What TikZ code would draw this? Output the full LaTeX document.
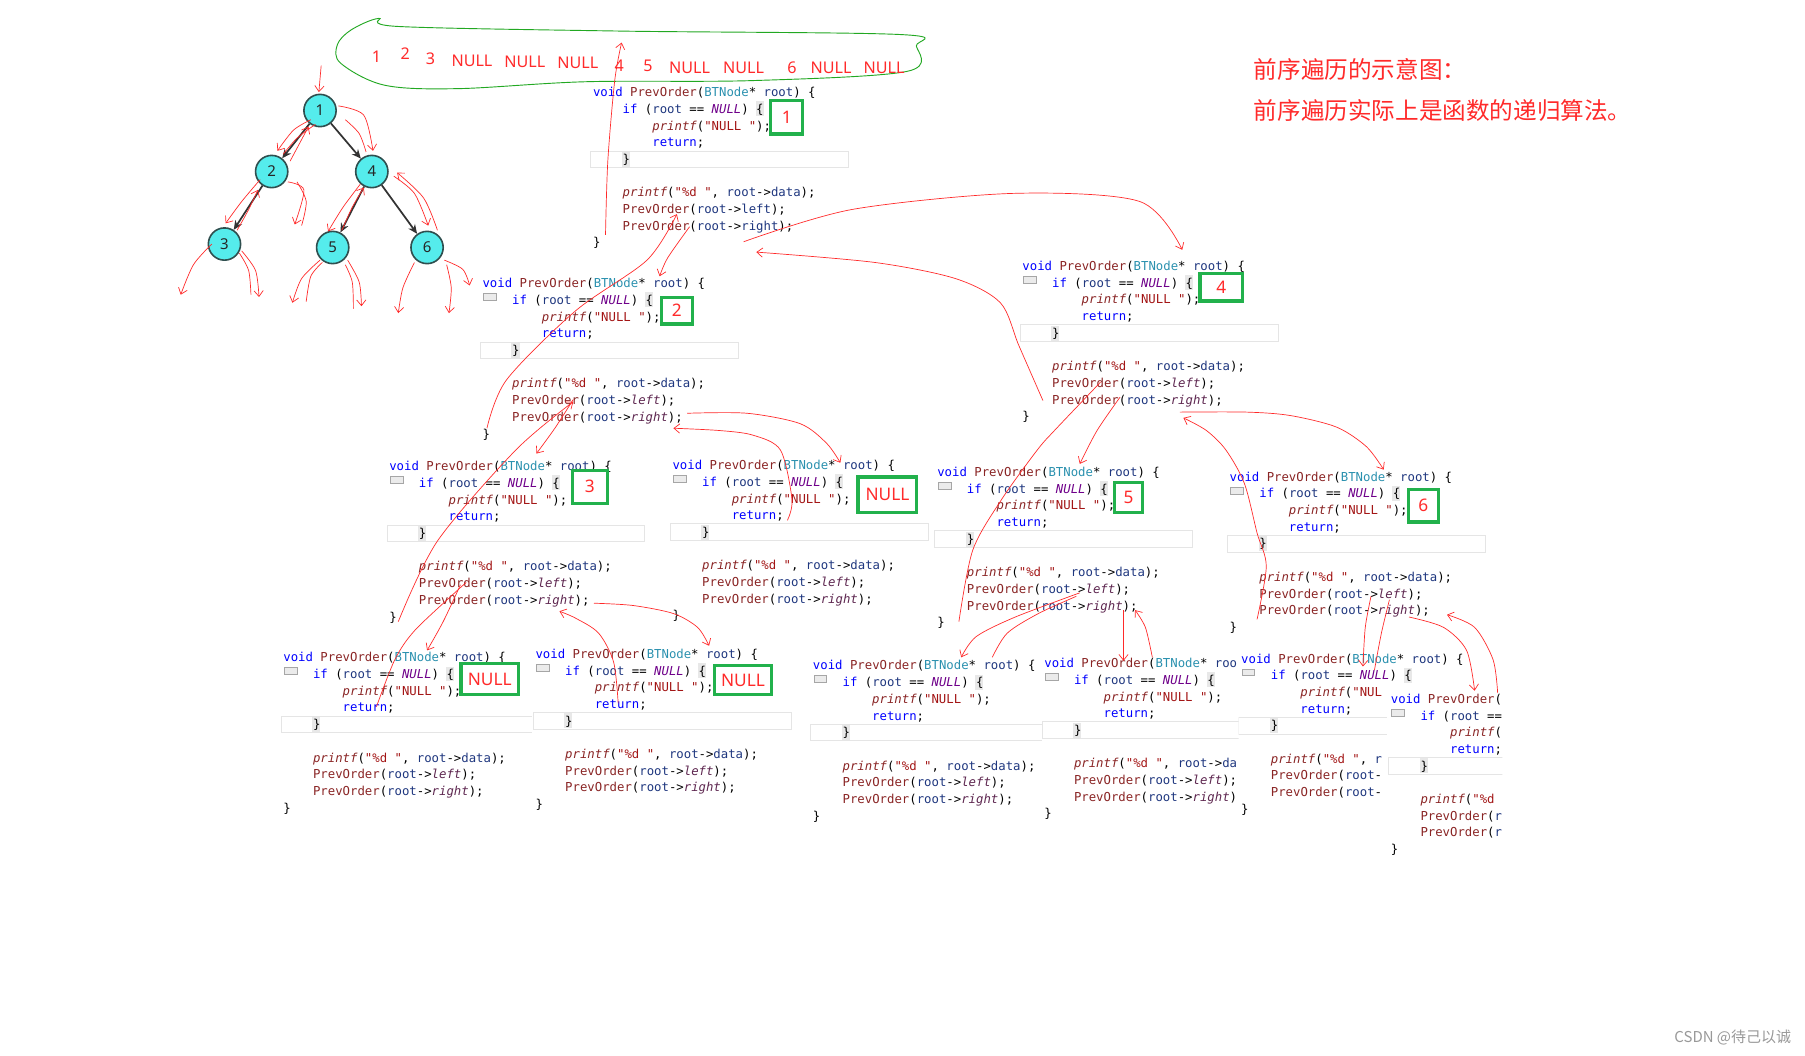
\documentclass[tikz,border=0pt]{standalone}
\usepackage{fontspec}
\setmainfont{Noto Sans}
\setmonofont{DejaVu Sans Mono}
\newfontfamily\cjkfont{Noto Sans CJK SC}
\usetikzlibrary{arrows.meta}
\definecolor{ckwc}{HTML}{0000FF}
\definecolor{cfnc}{HTML}{8A2525}
\definecolor{ctyc}{HTML}{2B91AF}
\definecolor{cvrc}{HTML}{1F377F}
\definecolor{cnlc}{HTML}{6F008A}
\definecolor{cstc}{HTML}{A31515}
\definecolor{clrc}{HTML}{5E2750}
\definecolor{boxgreen}{HTML}{22B14C}
\definecolor{inkred}{HTML}{FF2A2A}
\definecolor{loopgreen}{HTML}{22A822}
\definecolor{nodecyan}{HTML}{55ECEC}
\definecolor{nodeedge}{HTML}{2F4F4F}
\newcommand\ckw[1]{\textcolor{ckwc}{#1}}
\newcommand\cfn[1]{\textcolor{cfnc}{#1}}
\newcommand\cfi[1]{\textcolor{cfnc}{\itshape #1}}
\newcommand\cty[1]{\textcolor{ctyc}{#1}}
\newcommand\cvr[1]{\textcolor{cvrc}{#1}}
\newcommand\cnl[1]{\textcolor{cnlc}{\itshape #1}}
\newcommand\cst[1]{\textcolor{cstc}{#1}}
\newcommand\clrA[1]{\textcolor{cvrc}{#1}}
\newcommand\clrB[1]{\textcolor{clrc}{\itshape #1}}
\tikzset{
 cl/.style={anchor=base west, inner sep=0pt, font=\ttfamily\fontsize{10.7pt}{12pt}\selectfont},
 lnbox/.style={draw=black!10, line width=0.5pt},
 bracehl/.style={fill=black!9},
 iconbox/.style={draw=black!35, fill=black!8, line width=0.5pt},
 gbox/.style={draw=boxgreen, line width=2.8pt, anchor=north west, inner sep=0pt, text=inkred, font=\fontsize{15pt}{17pt}\selectfont},
 ink/.style={draw=inkred, line width=0.6pt},
 inka/.style={ink, -{Straight Barb[length=5pt,width=8pt]}},
 tn/.style={circle, draw=nodeedge, line width=1.4pt, fill=nodecyan, minimum size=28pt, inner sep=0pt, font=\bfseries\fontsize{13pt}{15pt}\selectfont, text=black!85},
 te/.style={draw=black!80, line width=1.5pt, -{Stealth[length=8pt,width=7pt]}},
 seq/.style={text=inkred, inner sep=0pt, font=\fontsize{14pt}{16pt}\selectfont},
}
% decorations of a block: #1 x, #2 y
\newcommand\blkdeco[2]{%
  \draw[lnbox] (#1-2,#2+51) rectangle (#1+222,#2+65.5);
  \fill[bracehl] (#1+25.3,#2+51.8) rectangle ++(7,13);
  \fill[bracehl] (#1+141.3,#2+8) rectangle ++(7,13);
}
% one code line: #1 name, #2 x, #3 baseline y, #4 indent, #5 text
\newcommand\cln[5]{\node[cl] (#1) at (#2+#4,#3) {#5};}
% #1 name, #2 x, #3 y, #4 style of left/right
\newcommand\codeblk[4]{%
  \blkdeco{#2}{#3}%
  \cln{#1-0}{#2}{#3+4}{0}{\ckw{void} \cfn{PrevOrder}(\cty{BTNode}* \cvr{root}) \{}%
  \cln{#1-1}{#2}{#3+18.5}{25.77}{\ckw{if} (\cvr{root} == \cnl{NULL}) \{}%
  \cln{#1-2}{#2}{#3+33}{51.5}{\cfi{printf}(\cst{"NULL "});}%
  \cln{#1-3}{#2}{#3+47.5}{51.5}{\ckw{return};}%
  \cln{#1-4}{#2}{#3+62}{25.77}{\}}%
  \cln{#1-6}{#2}{#3+91}{25.77}{\cfi{printf}(\cst{"\%d "}, \cvr{root}->\cvr{data});}%
  \cln{#1-7}{#2}{#3+105.5}{25.77}{\cfn{PrevOrder}(\cvr{root}->#4{left});}%
  \cln{#1-8}{#2}{#3+120}{25.77}{\cfn{PrevOrder}(\cvr{root}->#4{right});}%
  \cln{#1-9}{#2}{#3+134.5}{0}{\}}%
}
\newcommand\foldicon[2]{\draw[iconbox] (#1+1,#2+9) rectangle (#1+12,#2+15);}
\begin{document}
\begin{tikzpicture}[x=1pt,y=-1pt]
\useasboundingbox (0,0) rectangle (1568,917);
\fill[white] (0,0) rectangle (1568,917);

% ---------- code blocks ----------
\codeblk{B1}{515}{80}{\clrA}
\codeblk{B2}{419}{246}{\clrB}\foldicon{419}{246}
\codeblk{B4}{888}{231}{\clrB}\foldicon{888}{231}
\codeblk{B3}{338}{405}{\clrB}\foldicon{338}{405}
\codeblk{N1}{584}{404}{\clrB}\foldicon{584}{404}
\codeblk{B5}{814}{410}{\clrB}\foldicon{814}{410}
\codeblk{B6}{1068}{414}{\clrB}\foldicon{1068}{414}
\begin{scope}\clip (240,555) rectangle (462,760);
\codeblk{N2}{246}{571}{\clrB}\foldicon{246}{571}
\end{scope}
\codeblk{N3}{465}{568}{\clrB}\foldicon{465}{568}
\begin{scope}\clip (700,555) rectangle (905,760);
\codeblk{N4}{706}{578}{\clrB}\foldicon{706}{578}
\end{scope}
% block cut by its right neighbour
\begin{scope}\clip (900,555) rectangle (1076,760);
\blkdeco{907}{576}\foldicon{907}{576}
\end{scope}
\cln{N5-0}{907}{580}{0}{\ckw{void} \cfn{PrevOrder}(\cty{BTNode}* \cvr{roo}}
\cln{N5-1}{907}{594.5}{25.77}{\ckw{if} (\cvr{root} == \cnl{NULL}) \{}
\cln{N5-2}{907}{609}{51.5}{\cfi{printf}(\cst{"NULL "});}
\cln{N5-3}{907}{623.5}{51.5}{\ckw{return};}
\cln{N5-4}{907}{638}{25.77}{\}}
\cln{N5-6}{907}{667}{25.77}{\cfi{printf}(\cst{"\%d "}, \cvr{root}->\cvr{da}}
\cln{N5-7}{907}{681.5}{25.77}{\cfn{PrevOrder}(\cvr{root}->\clrB{left});}
\cln{N5-8}{907}{696}{25.77}{\cfn{PrevOrder}(\cvr{root}->\clrB{right})}
\cln{N5-9}{907}{710.5}{0}{\}}
% block partly covered by the last one
\begin{scope}\clip (1076,555) rectangle (1300,760);
\blkdeco{1078}{572}\foldicon{1078}{572}
\end{scope}
\cln{N6-0}{1078}{576}{0}{\ckw{void} \cfn{PrevOrder}(\cty{BTNode}* \cvr{root}) \{}
\cln{N6-1}{1078}{590.5}{25.77}{\ckw{if} (\cvr{root} == \cnl{NULL}) \{}
\cln{N6-2}{1078}{605}{51.5}{\cfi{printf}(\cst{"NUL}}
\cln{N6-3}{1078}{619.5}{51.5}{\ckw{return};}
\cln{N6-4}{1078}{634}{25.77}{\}}
\cln{N6-6}{1078}{663}{25.77}{\cfi{printf}(\cst{"\%d "}, \cvr{r}}
\cln{N6-7}{1078}{677.5}{25.77}{\cfn{PrevOrder}(\cvr{root}-}
\cln{N6-8}{1078}{692}{25.77}{\cfn{PrevOrder}(\cvr{root}-}
\cln{N6-9}{1078}{706.5}{0}{\}}
% last block, cut at the right
\fill[white] (1205,601) rectangle (1310,770);
\begin{scope}\clip (1205,598) rectangle (1305,770);
\blkdeco{1208}{607}\foldicon{1208}{607}
\end{scope}
\cln{N7-0}{1208}{611}{0}{\ckw{void} \cfn{PrevOrder}(}
\cln{N7-1}{1208}{625.5}{25.77}{\ckw{if} (\cvr{root} ==}
\cln{N7-2}{1208}{640}{51.5}{\cfi{printf}(}
\cln{N7-3}{1208}{654.5}{51.5}{\ckw{return};}
\cln{N7-4}{1208}{669}{25.77}{\}}
\cln{N7-6}{1208}{698}{25.77}{\cfi{printf}(\cst{"\%d}}
\cln{N7-7}{1208}{712.5}{25.77}{\cfn{PrevOrder}(\cvr{r}}
\cln{N7-8}{1208}{727}{25.77}{\cfn{PrevOrder}(\cvr{r}}
\cln{N7-9}{1208}{741.5}{0}{\}}

% ---------- green boxes ----------
\node[gbox, minimum width=28pt, minimum height=29pt] (B1-box) at (668,86) {1};
\node[gbox, minimum width=27pt, minimum height=23pt] (B2-box) at (573,257) {2};
\node[gbox, minimum width=37pt, minimum height=24pt] (B4-box) at (1041,236) {4};
\node[gbox, minimum width=30pt, minimum height=29pt] (B3-box) at (496,407) {3};
\node[gbox, minimum width=51pt, minimum height=31pt] (N1-box) at (744,413) {NULL};
\node[gbox, minimum width=24pt, minimum height=26pt] (B5-box) at (967,418) {5};
\node[gbox, minimum width=26pt, minimum height=28pt] (B6-box) at (1222,424) {6};
\node[gbox, minimum width=50pt, minimum height=27pt] (N2-box) at (399,575) {NULL};
\node[gbox, minimum width=50pt, minimum height=25pt] (N3-box) at (619,577) {NULL};

% ---------- tree ----------
\node[tn] (t1) at (278,96) {1};
\node[tn] (t2) at (236,149) {2};
\node[tn] (t4) at (323,149) {4};
\node[tn] (t3) at (195,212) {3};
\node[tn] (t5) at (289,215) {5};
\node[tn] (t6) at (371,215) {6};
\draw[te] (t1) -- (t2);
\draw[te] (t1) -- (t4);
\draw[te] (t2) -- (t3);
\draw[te] (t4) -- (t5);
\draw[te] (t4) -- (t6);

% ---------- sequence and loop ----------
\draw[draw=loopgreen, line width=0.8pt] plot[smooth cycle, tension=0.55] coordinates {(329,16) (346,23) (539,27) (782,30) (796,40) (788,62) (654,70) (509,71) (398,77) (334,74) (296,55) (293,39) (305,26)};
\node[seq] (s1) at (327,49) {1};
\node[seq] (s2) at (352,47) {2};
\node[seq] (s3) at (374,51) {3};
\node[seq] (s4) at (410,53) {NULL};
\node[seq] (s5) at (456,54) {NULL};
\node[seq] (s6) at (502,55) {NULL};
\node[seq] (s7) at (538,57) {4};
\node[seq] (s8) at (563,57) {5};
\node[seq] (s9) at (599,59) {NULL};
\node[seq] (s10) at (646,59) {NULL};
\node[seq] (s11) at (688,59) {6};
\node[seq] (s12) at (722,59) {NULL};
\node[seq] (s13) at (768,59) {NULL};

% ---------- titles ----------
\node[anchor=west, inner sep=0pt, text=inkred, font=\cjkfont\fontsize{20.5pt}{24pt}\selectfont] (title1) at (1089,60) {前序遍历的示意图：};
\node[anchor=west, inner sep=0pt, text=inkred, font=\cjkfont\fontsize{20.5pt}{24pt}\selectfont] (title2) at (1089,96) {前序遍历实际上是函数的递归算法。};
\node[anchor=east, inner sep=0pt, text=black!40, font=\cjkfont\fontsize{13pt}{15pt}\selectfont] (wm) at (1556,901) {CSDN @待己以诚};

% ---------- red strokes around tree ----------
\begin{scope}[line width=0.5pt]
\draw[inka] plot[smooth] coordinates {(279,57) (277,80)};
\draw[inka] plot[smooth] coordinates {(270,104) (255,113) (241,131)};
\draw[ink] plot[smooth] coordinates {(274,108) (258,120) (246,134)};
\draw[inka] plot[smooth] coordinates {(252,140) (260,125) (268,110)};
\draw[inka] plot[smooth] coordinates {(226,156) (210,175) (196,194)};
\draw[inka] plot[smooth] coordinates {(184,212) (168,230) (157,256)};
\draw[inka] plot[smooth] coordinates {(210,218) (222,235) (225,258)};
\draw[ink] plot[smooth] coordinates {(218,256) (216,235) (208,220)};
\draw[inka] plot[smooth] coordinates {(206,200) (216,182) (224,165)};
\draw[inka] plot[smooth] coordinates {(250,158) (264,165) (256,195)};
\draw[ink] plot[smooth] coordinates {(262,196) (266,175) (258,158)};
\draw[inka] plot[smooth] coordinates {(294,92) (316,100) (324,131)};
\draw[ink] plot[smooth] coordinates {(300,104) (312,116) (318,132)};
\draw[inka] plot[smooth] coordinates {(313,160) (298,180) (285,201)};
\draw[inka] plot[smooth] coordinates {(278,226) (262,242) (254,263)};
\draw[ink] plot[smooth] coordinates {(266,262) (270,240) (280,228)};
\draw[inka] plot[smooth] coordinates {(302,226) (312,245) (314,266)};
\draw[ink] plot[smooth] coordinates {(307,268) (306,245) (300,230)};
\draw[inka] plot[smooth] coordinates {(297,200) (306,180) (316,163)};
\draw[inka] plot[smooth] coordinates {(342,153) (360,168) (372,196)};
\draw[inka] plot[smooth] coordinates {(360,228) (350,250) (346,272)};
\draw[inka] plot[smooth] coordinates {(386,226) (402,234) (408,248)};
\draw[inka] plot[smooth] coordinates {(388,230) (392,250) (390,272)};
\draw[inka] plot[smooth] coordinates {(380,200) (368,172) (345,150)};
\end{scope}

% ---------- red strokes over code ----------
\draw[inka] plot[smooth] coordinates {(526,204) (528,140) (534,70) (540,37)};
\draw[inka] plot[smooth] coordinates {(599,197) (580,224) (573,240)};
\draw[inka] plot[smooth] coordinates {(423,372) (440,330) (500,270) (562,226) (588,186)};
\draw[inka] plot[smooth] coordinates {(646,210) (740,182) (880,168) (990,175) (1027,217)};
\draw[inka] plot[smooth] coordinates {(906,348) (885,300) (869,263) (830,242) (760,228) (657,219)};
\draw[inka] plot[smooth] coordinates {(498,347) (482,372) (466,394)};
\draw[inka] plot[smooth] coordinates {(346,540) (380,470) (448,391) (498,349)};
\draw[inka] plot[smooth] coordinates {(597,359) (649,359) (695,368) (718,385) (730,402)};
\draw[inka] plot[smooth] coordinates {(684,452) (688,434) (678,391) (654,378) (625,374) (585,372)};
\draw[inka] plot[smooth] coordinates {(400,508) (385,540) (371,565)};
\draw[ink] plot[smooth] coordinates {(327,614) (343,573) (360,548) (395,515) (405,506)};
\draw[inka] plot[smooth] coordinates {(516,524) (550,526) (585,533) (606,545) (616,561)};
\draw[inka] plot[smooth] coordinates {(537,611) (533,575) (520,550) (500,537) (486,531)};
\draw[inka] plot[smooth] coordinates {(973,345) (953,374) (938,403)};
\draw[ink] plot[smooth] coordinates {(833,540) (845,478) (870,434) (901,391) (916,374) (956,332)};
\draw[inka] plot[smooth] coordinates {(1025,358) (1083,358) (1121,361) (1161,371) (1187,388) (1202,408)};
\draw[inka] plot[smooth] coordinates {(1092,538) (1100,492) (1092,463) (1081,420) (1065,391) (1048,374) (1028,363)};
\draw[inka] plot[smooth] coordinates {(938,515) (882,536) (848,553) (835,571)};
\draw[ink] plot[smooth] coordinates {(862,571) (875,550) (902,533) (935,518)};
\draw[inka] plot[smooth] coordinates {(976,530) (976,574)};
\draw[inka] plot[smooth] coordinates {(1001,571) (995,545) (986,530)};
\draw[inka] plot[smooth] coordinates {(1191,518) (1186,545) (1184,579)};
\draw[ink] plot[smooth] coordinates {(1194,582) (1200,550) (1207,521)};
\draw[inka] plot[smooth] coordinates {(1224,536) (1254,545) (1274,565) (1281,600)};
\draw[inka] plot[smooth] coordinates {(1301,602) (1297,573) (1281,545) (1257,534)};
\end{tikzpicture}
\end{document}
